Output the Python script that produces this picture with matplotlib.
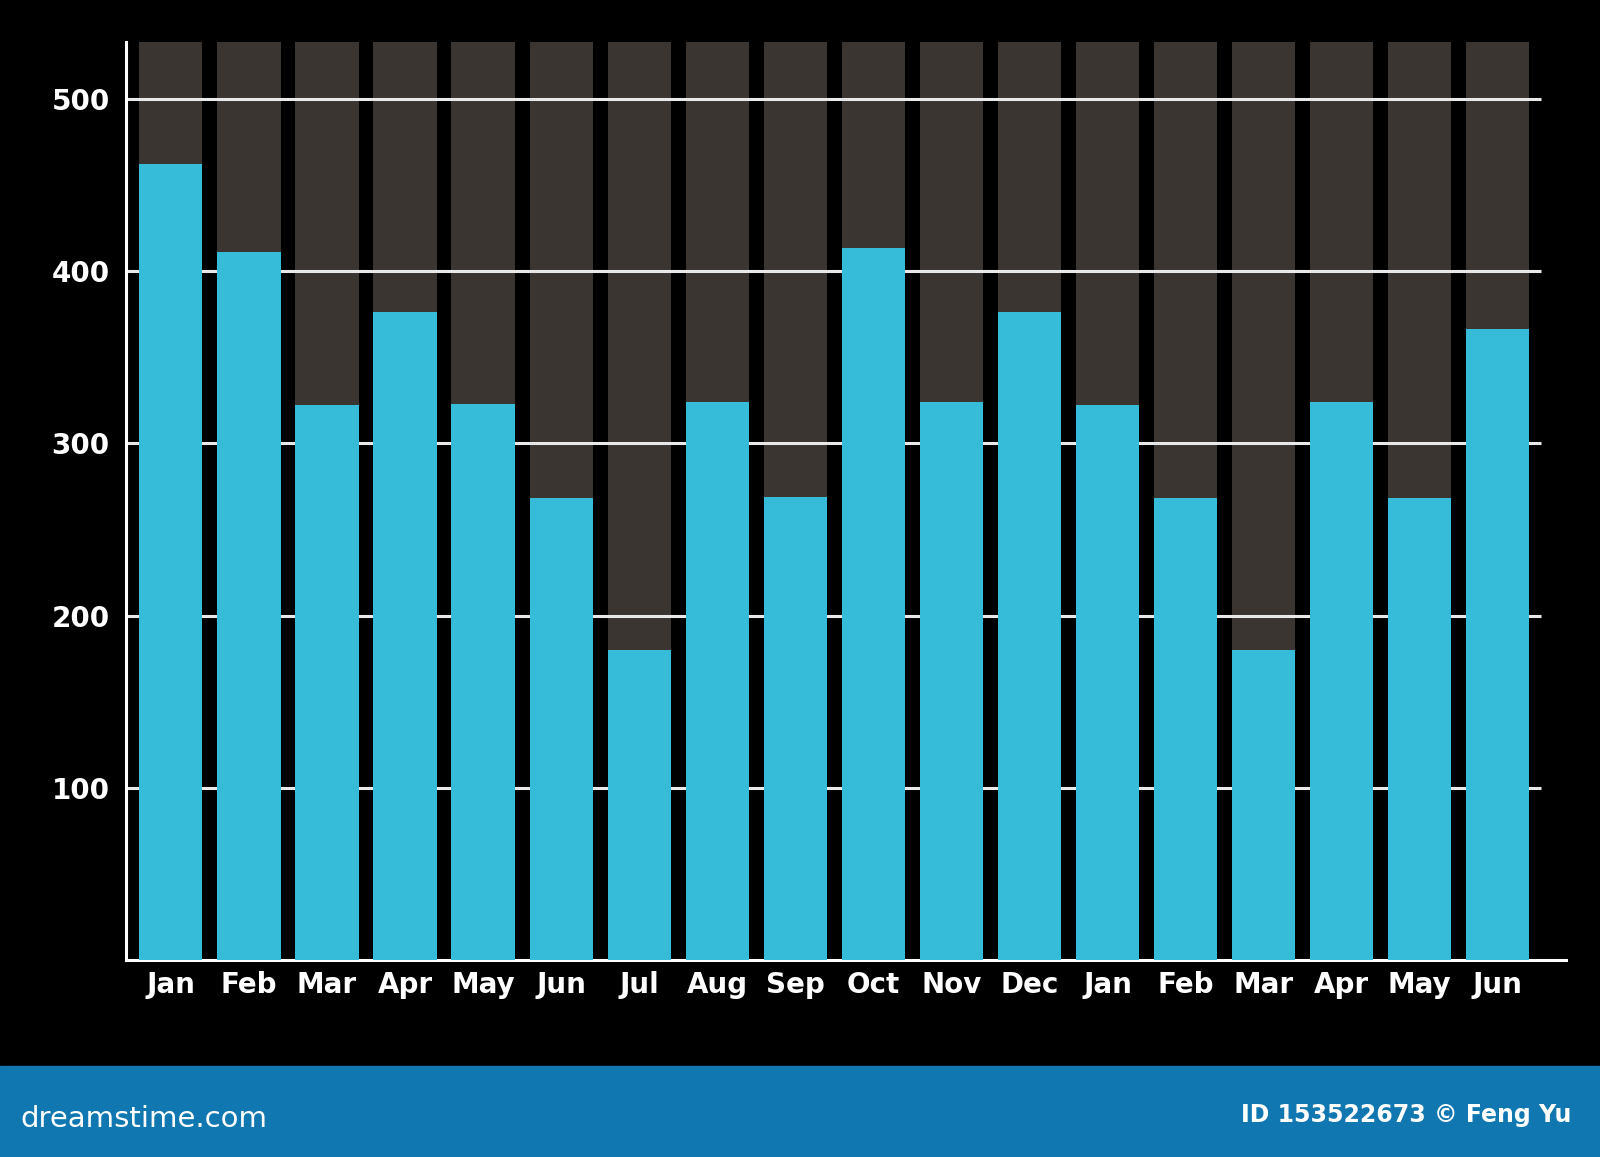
import matplotlib.pyplot as plt
import matplotlib.patches as mpatches

months = ["Jan", "Feb", "Mar", "Apr", "May", "Jun", "Jul", "Aug", "Sep",
          "Oct", "Nov", "Dec", "Jan", "Feb", "Mar", "Apr", "May", "Jun"]
values = [462, 411, 322, 376, 323, 268, 180, 324, 269,
          413, 324, 376, 322, 268, 180, 324, 268, 366]
y_ticks = [100, 200, 300, 400, 500]
y_max = 533

fig = plt.figure(figsize=(16, 11.57), dpi=100, facecolor="black")
ax = fig.add_axes([0.079, 0.170, 0.900, 0.794], facecolor="black")

x = list(range(len(months)))
# dunkle Säulen im Hintergrund (volle Höhe)
ax.bar(x, [y_max] * len(x), width=0.81, color="#3a3531", zorder=1)
# Gitterlinien über den grauen Säulen, unter den blauen Balken
ax.hlines(y_ticks, -0.57, 17.55, color="#e8e8e8", lw=2.2, zorder=2)
ax.bar(x, values, width=0.81, color="#36bcd9", zorder=3)

ax.set_xlim(-0.57, 17.88)
ax.set_ylim(0, y_max)
ax.set_xticks(x, months)
ax.set_yticks(y_ticks)
ax.tick_params(colors="white", length=0, labelsize=20)
ax.tick_params(axis="y", pad=12)
ax.tick_params(axis="x", pad=8)
for lab in ax.get_xticklabels() + ax.get_yticklabels():
    lab.set_fontweight("bold")
for s in ["top", "right"]:
    ax.spines[s].set_visible(False)
for s in ["left", "bottom"]:
    ax.spines[s].set_color("white")
    ax.spines[s].set_linewidth(2.2)

# Fußzeile
fig.patches.append(mpatches.Rectangle((0, 0), 1, 0.079, transform=fig.transFigure,
                                      color="#1077b0", zorder=0))
fig.text(0.013, 0.033, "dreamstime.com", color="white", fontsize=21, va="center", ha="left")
fig.text(0.982, 0.036, "ID 153522673 © Feng Yu", color="white", fontsize=17,
         fontweight="bold", va="center", ha="right")

plt.savefig("out.png", dpi=100, facecolor="black")
